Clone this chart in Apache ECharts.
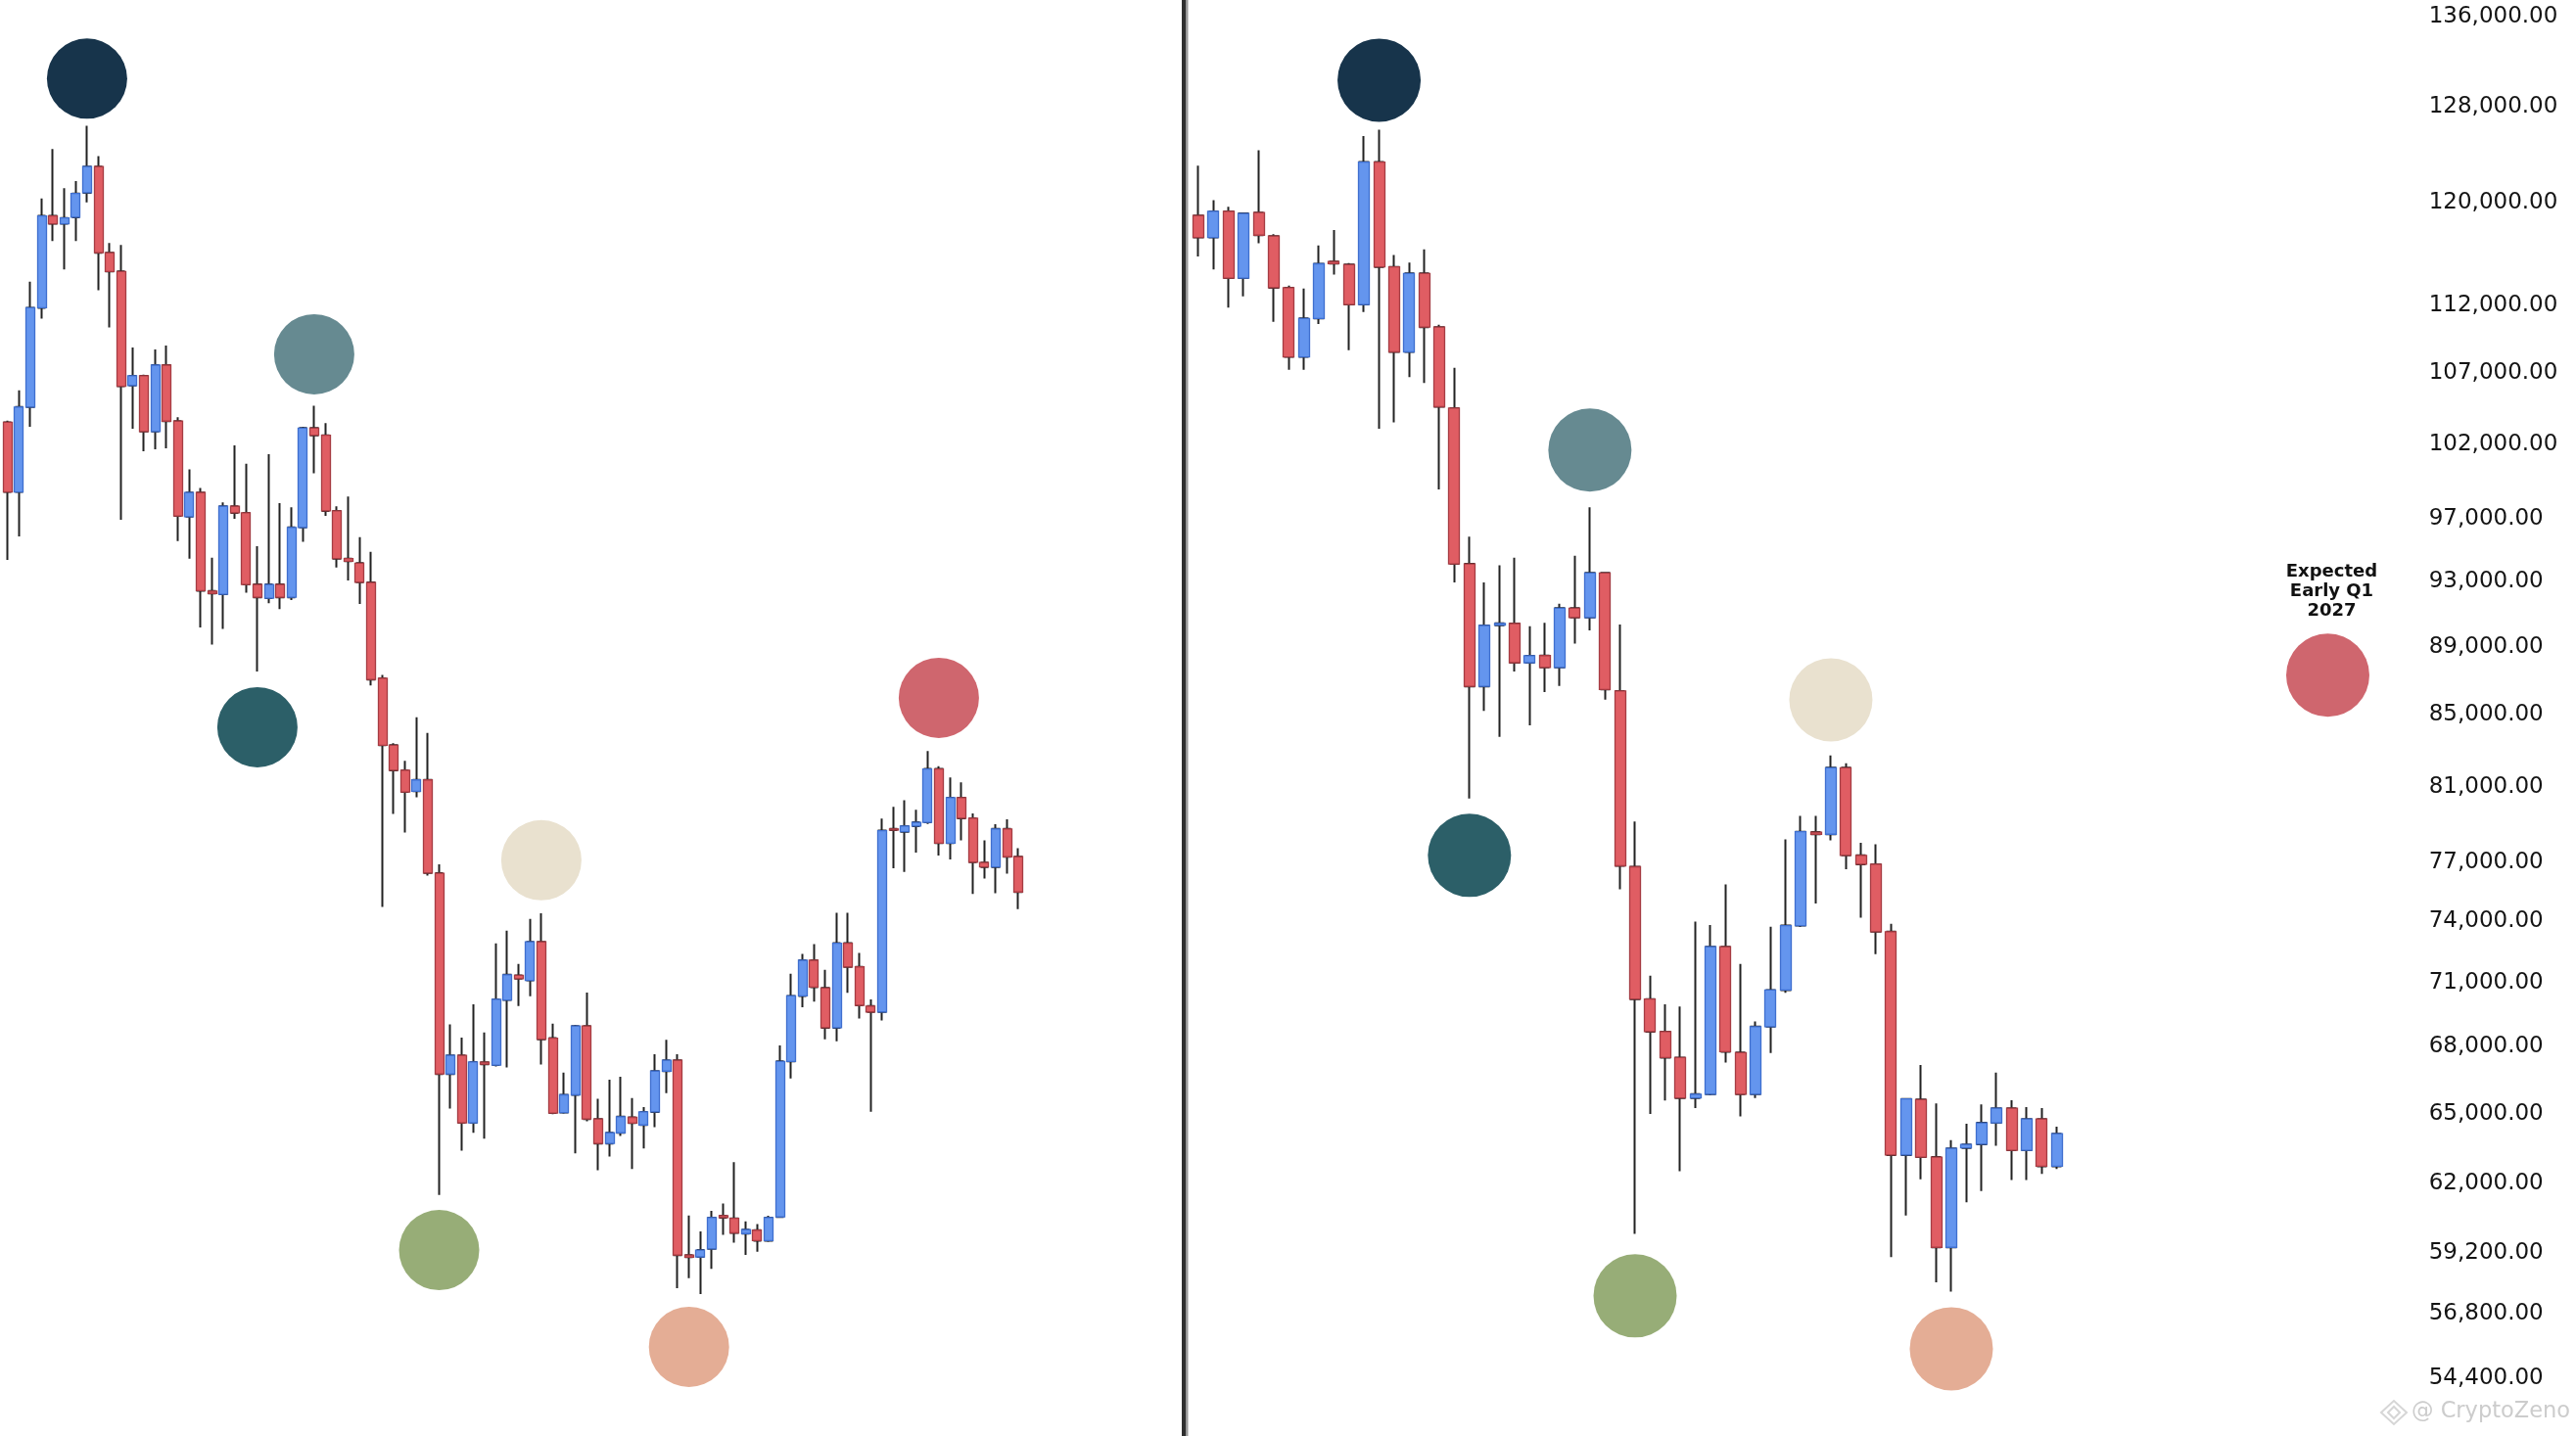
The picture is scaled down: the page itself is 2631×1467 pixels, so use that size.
<!DOCTYPE html>
<html><head><meta charset="utf-8">
<script src="https://cdn.jsdelivr.net/npm/echarts@6/dist/echarts.min.js"></script>
<style>html,body{margin:0;padding:0;background:#fff}#c{width:2631px;height:1467px}</style>
</head><body><div id="c"></div>
<script>
// ---------- Left panel (earlier cycle, no axis) ----------
const leftOpen = [103510,98770,104580,111800,118930,118310,118830,120800,122950,116020,
114570,106110,106800,102870,107570,103590,97140,98730,92400,92200,
97820,97390,92810,91960,92810,92010,96440,103110,102610,97520,
94440,94150,92930,87130,83290,81900,80750,81370,76420,66760,
67600,64600,67290,67160,70170,71340,71100,72970,68390,65050,
65830,68950,64770,63710,64170,64840,64510,65080,66890,67380,
59100,59030,59350,60690,60580,59960,60100,59680,60640,67330,
70360,72070,70740,68870,72900,71750,69880,69610,78730,78580,
78880,79080,81970,77980,80400,79300,76970,76740,78730,77270];
const leftClose = [98770,104580,111800,118930,118310,118770,120740,122950,116020,114570,
106050,106800,102870,107570,103590,97190,98730,92420,92250,97820,
97390,92810,92010,92810,92010,96440,103110,102610,97520,94440,
94270,92950,87060,83290,81900,80710,81370,76430,66760,67600,
64600,67300,67200,70200,71370,71180,72970,68340,65030,65830,
68950,64770,63710,64170,64870,64590,65080,66890,67380,59100,
59020,59300,60610,60610,59990,60120,59680,60610,67330,70360,
72070,70780,68870,72900,71750,69920,69610,78640,78670,78880,
79080,81970,77980,80400,79300,76990,76740,78730,77270,75460];
const leftLow = [94360,95860,103200,110990,116940,114720,116940,120020,113130,110330,
96940,103060,101510,101640,101720,95560,94440,90160,89130,90070,
97000,92300,87530,91650,91290,91840,95510,100020,97190,93880,
93060,91600,86710,74710,79530,78540,80430,76300,61540,65220,
63400,64170,63920,67100,67050,69890,70350,67190,64980,65000,
63290,64670,62570,63150,64030,62630,63500,64410,65900,57800,
58190,57570,58560,59910,59600,59110,59230,59630,60600,66560,
69830,70090,68340,68250,70510,69300,65090,69210,76680,76480,
77480,79000,77330,77130,78130,75360,76150,75400,76400,74600];
const leftHigh = [103620,105770,113780,120330,124400,121180,121750,126360,123820,116780,
116630,108850,106880,108710,108990,103860,100280,99030,94490,98080,
101910,100670,95230,101320,98030,97760,103200,104670,103460,97820,
98460,95810,94870,87330,83400,82420,84880,83990,76870,69030,
68420,69970,68650,72890,73520,71890,74100,74380,69060,66820,
69000,70520,65660,66500,66640,65690,65290,67650,68310,67650,
60700,60050,60890,61190,62910,60460,60350,60690,68060,71420,
72380,72860,71610,74410,74410,72430,70200,79280,79910,80260,
79750,82970,82130,81510,81240,79550,78130,78980,79240,77720];

// ---------- Right panel (current cycle, price axis) ----------
const rightOpen = [118960,117220,119300,114060,119200,117330,113320,108170,111000,115330,
115100,112050,123320,114920,108530,114420,110360,104500,94100,86660,
90300,90400,88050,88470,87770,91340,90770,93530,86390,76750,
70210,68690,67500,65690,65860,72730,67730,65860,68920,70640,
73770,78560,78450,82040,77340,76880,73470,63220,65620,63130,
59410,63520,63680,64600,65240,63420,64770,62740];
const rightClose = [117220,119300,114060,119130,117400,113320,108170,111000,115160,115170,
112050,123320,114920,108530,114420,110360,104600,94100,86660,90280,
90410,88050,88460,87770,91340,90770,93530,86480,76800,70210,
68690,67500,65690,65860,72730,67770,65860,68920,70640,73770,
78580,78450,82040,77340,76880,73470,63220,65650,63130,59410,
63500,63670,64600,65240,63420,64770,62740,64130];
const rightLow = [115740,114720,111820,112660,116770,110750,107230,107230,110590,114330,
108660,111490,103060,103510,106700,106290,98930,92930,80360,85240,
83760,87530,84410,86330,86680,89190,89980,85890,75590,59950,
64990,65580,62530,65250,65810,67280,64880,65690,67710,70510,
73700,74880,78130,76620,74160,72370,59020,60700,62190,58030,
57670,61240,61700,63610,62160,62160,62420,62630];
const rightHigh = [123030,120190,119660,119200,124310,117470,113490,113260,116600,117810,
115220,125490,126040,115850,115260,116290,110530,107380,95840,92930,
94020,94490,90230,90440,91620,94620,97760,93600,90340,79120,
71330,69970,69860,73970,73800,75850,71890,69160,73720,78180,
79430,79430,82720,82280,78000,77920,73860,65690,67160,65450,
63850,64560,65410,66820,65590,65290,65250,64440];

const rightSlots = 80;   // weeks shown on the right time axis (incl. projection)
const priceTicks = [136000,128000,120000,112000,107000,102000,97000,93000,89000,85000,
81000,77000,74000,71000,68000,65000,62000,59200,56800,54400];
const priceMin = 54400, priceMax = 136000;

// markers: [name, candle index, price]
const leftMarkers = [['navy',7,130440],['slate',27,108360],['teal',22,84310],['beige',47,77090],
  ['green',38,59300],['peach',60,55560],['red',82,85990]];
const rightMarkers = [['navy',12,130310],['slate',26,101590],['teal',18,77340],['beige',42,85870],
  ['green',29,57500],['peach',50,55490],['red',75,87310]];
const projectionText = 'Expected\nEarly Q1\n2027';
const watermark = '@ CryptoZeno';

// ---------- styles ----------
const markerColors = {navy:'#17344b', slate:'#668a91', teal:'#2c5f68', beige:'#e9e1cf',
  green:'#97ad77', peach:'#e4ad95', red:'#cf666e'};
const UP = '#6495ee', UP_B = '#3f6fcf', DN = '#e05d63', DN_B = '#a63c43', WICK = '#222';
const FONT = '"DejaVu Sans", Verdana, sans-serif';

const L = Math.log;
function candles(o,c,l,h){ return o.map((v,i)=>[L(v),L(c[i]),L(l[i]),L(h[i])]); }
function bodies(o,c){ return o.map((v,i)=>[L(v),L(c[i]),L(Math.min(v,c[i])),L(Math.max(v,c[i]))]); }
function fmt(v){ const n=Math.round(Math.exp(v)/100)*100; return n.toFixed(2).replace(/\B(?=(\d{3})+(?!\d))/g, ','); }

const leftCats = leftOpen.map((_,i)=>'L'+i);
const rightCats = Array.from({length:rightSlots},(_,i)=>'R'+i);

function markerSeries(list, xi, yi, size){
  return {
    type:'scatter', xAxisIndex:xi, yAxisIndex:yi, clip:false, z:1, symbolSize:size, silent:true,
    data: list.map(m=>{
      const d = {value:[m[1], L(m[2])], itemStyle:{color:markerColors[m[0]], opacity:1}};
      if (xi===1 && m[0]==='red') d.label = {show:true, position:'top', distance:13, offset:[4,0],
          formatter:projectionText, fontFamily:FONT, fontWeight:'bold', fontSize:18, lineHeight:20,
          color:'#111', align:'center'};
      return d;
    })
  };
}
function wickSeries(xi, data, w){
  return {type:'candlestick', xAxisIndex:xi, yAxisIndex:xi, barWidth:w, z:2, data,
    itemStyle:{color:WICK,color0:WICK,borderColor:WICK,borderColor0:WICK,borderColorDoji:WICK,borderWidth:2}};
}
function bodySeries(xi, data, w){
  return {type:'candlestick', xAxisIndex:xi, yAxisIndex:xi, barWidth:w, z:3, data,
    itemStyle:{color:UP,color0:DN,borderColor:UP_B,borderColor0:DN_B,borderWidth:1.3}};
}

const yBase = {type:'value', min:L(priceMin), max:L(priceMax), scale:true,
  axisLine:{show:false}, axisTick:{show:false}, splitLine:{show:false}};

const chart = echarts.init(document.getElementById('c'), null, {renderer:'canvas'});
chart.setOption({
  animation:false,
  backgroundColor:'#ffffff',
  grid:[
    {left:1.9, top:17, width:leftCats.length*11.6, height:1391},
    {left:1216.3, top:17, width:rightSlots*15.38, height:1391}
  ],
  xAxis:[
    {type:'category', gridIndex:0, data:leftCats, boundaryGap:true, show:false},
    {type:'category', gridIndex:1, data:rightCats, boundaryGap:true, show:false}
  ],
  yAxis:[
    Object.assign({}, yBase, {gridIndex:0, show:false}),
    Object.assign({}, yBase, {gridIndex:1, position:'right',
      axisLabel:{show:true, customValues:priceTicks.map(L), formatter:fmt, margin:34,
        fontFamily:FONT, fontSize:23, color:'#141414'}})
  ],
  series:[
    markerSeries(leftMarkers,0,0,82),
    markerSeries(rightMarkers,1,1,85),
    wickSeries(0, candles(leftOpen,leftClose,leftLow,leftHigh), 7),
    bodySeries(0, bodies(leftOpen,leftClose), 9.5),
    wickSeries(1, candles(rightOpen,rightClose,rightLow,rightHigh), 9),
    bodySeries(1, bodies(rightOpen,rightClose), 11.5)
  ],
  graphic:[
    {type:'rect', shape:{x:1207, y:0, width:4.5, height:1467}, style:{fill:'#2f2f2f'}, z:10},
    {type:'rect', shape:{x:1211.5, y:0, width:2, height:1467}, style:{fill:'#9a9a9a'}, z:10},
    {type:'polygon', shape:{points:[[2432,1443],[2445,1431],[2458,1443],[2445,1455]]},
      style:{fill:'none', stroke:'#d6d6d6', lineWidth:2}, z:10},
    {type:'polygon', shape:{points:[[2439,1443],[2445,1437],[2451,1443],[2445,1449]]},
      style:{fill:'none', stroke:'#d6d6d6', lineWidth:2}, z:10},
    {type:'text', x:2463, y:1442, z:10,
      style:{text:watermark, fill:'#cccccc', font:'22.5px ' + FONT, textVerticalAlign:'middle', verticalAlign:'middle'}}
  ]
});
</script></body></html>
